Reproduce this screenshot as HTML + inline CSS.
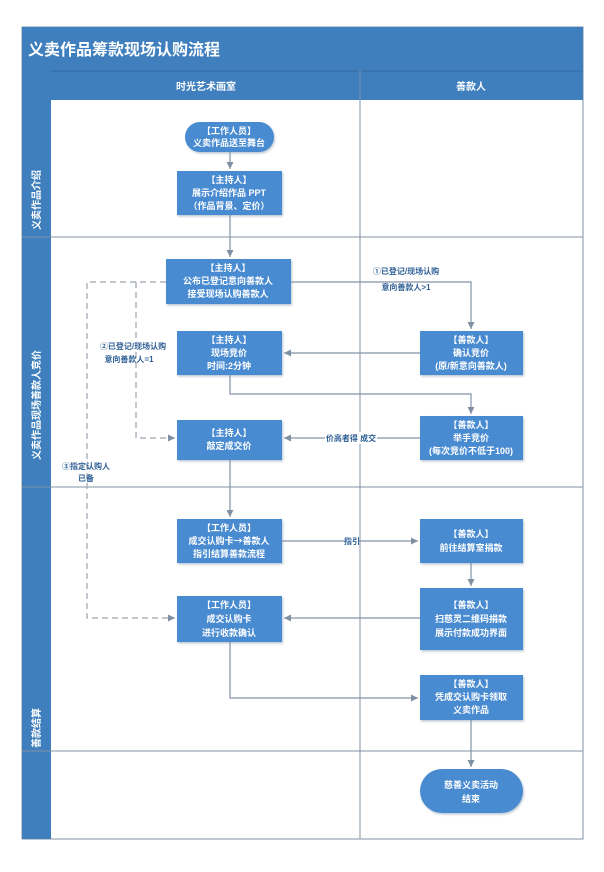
<!DOCTYPE html>
<html><head><meta charset="utf-8"><style>
body{margin:0;background:#fff;width:604px;height:867px;overflow:hidden;font-family:"Liberation Sans","Noto Sans CJK SC",sans-serif}
svg text{font-family:"Liberation Sans","Noto Sans CJK SC",sans-serif}
.b{fill:#4a8bd1}
.t{fill:#fff;font-size:9px;font-weight:bold;text-anchor:middle}
.l{fill:#2e5f95;font-size:8px;font-weight:bold;text-anchor:middle}
.c{stroke:#8293a6;stroke-width:1.2;fill:none}
.d{stroke:#9aa3ad;stroke-width:1.2;fill:none;stroke-dasharray:6 4}
</style></head><body>
<svg width="604" height="867" viewBox="0 0 604 867">
<defs><marker id="a" markerWidth="8" markerHeight="8" refX="7" refY="4" orient="auto" markerUnits="userSpaceOnUse"><path d="M0,0.5 L7,4 L0,7.5z" fill="#7f90a3"/></marker>
<filter id="s"><feDropShadow dx="1" dy="1.5" stdDeviation="1" flood-color="#7790a8" flood-opacity="0.5"/></filter></defs>
<rect x="22" y="27" width="561" height="812" fill="#fff" stroke="#8293a6"/>
<rect x="22" y="27" width="561" height="43" fill="#3f7fbd"/>
<text x="28" y="55" fill="#fff" font-size="16" font-weight="bold">义卖作品筹款现场认购流程</text>
<rect x="22" y="70" width="561" height="30" fill="#3f7fbd"/>
<rect x="22" y="70" width="29" height="769" fill="#3f7fbd"/>
<line x1="51" y1="71" x2="583" y2="71" stroke="#2f6aa4"/>
<line x1="360" y1="70" x2="360" y2="839" stroke="#8293a6"/>
<text x="206" y="90" fill="#fff" font-size="10" font-weight="bold" text-anchor="middle">时光艺术画室</text>
<text x="471" y="90" fill="#fff" font-size="10" font-weight="bold" text-anchor="middle">善款人</text>
<g stroke="#8293a6"><line x1="22" y1="237" x2="583" y2="237"/><line x1="22" y1="487" x2="583" y2="487"/><line x1="22" y1="751" x2="583" y2="751"/></g>
<g fill="#fff" font-size="10" font-weight="bold" text-anchor="middle">
<text transform="translate(40,200) rotate(-90)">义卖作品介绍</text>
<text transform="translate(40,405) rotate(-90)">义卖作品现场善款人竞价</text>
<text transform="translate(40,728) rotate(-90)">善款结算</text></g>
<path class="c" d="M230,152 V169" marker-end="url(#a)"/>
<path class="c" d="M230,215 V257" marker-end="url(#a)"/>
<path class="c" d="M291,282 H471 V329" marker-end="url(#a)"/>
<path class="c" d="M420,353 H284" marker-end="url(#a)"/>
<path class="c" d="M230,375 V394 H471 V414" marker-end="url(#a)"/>
<path class="c" d="M420,438 H284" marker-end="url(#a)"/>
<path class="c" d="M230,460 V517" marker-end="url(#a)"/>
<path class="c" d="M282,541 H418" marker-end="url(#a)"/>
<path class="c" d="M471,563 V586" marker-end="url(#a)"/>
<path class="c" d="M420,618 H284" marker-end="url(#a)"/>
<path class="c" d="M230,642 V698 H418" marker-end="url(#a)"/>
<path class="c" d="M471,720 V767" marker-end="url(#a)"/>
<path class="d" d="M166,282 H136 V438 H175" marker-end="url(#a)"/>
<path class="d" d="M136,282 H87 V618 H175" marker-end="url(#a)"/>
<rect x="345" y="535" width="14" height="12" fill="#fff"/>
<text x="352" y="544" class="l" fill="#333">指引</text>
<rect x="325" y="432" width="52" height="12" fill="#fff"/>
<text x="351" y="441" class="l">价高者得 成交</text>
<text x="406" y="274" class="l">①已登记/现场认购</text><text x="406" y="290" class="l">意向善款人&gt;1</text>
<text x="133" y="349" class="l">②已登记/现场认购</text><text x="129" y="362" class="l">意向善款人=1</text>
<text x="86" y="469" class="l">③指定认购人</text><text x="86" y="481" class="l">已备</text>
<g filter="url(#s)">
<rect class="b" x="185" y="122" width="89" height="30" rx="15"/>
<rect class="b" x="177" y="171" width="105" height="44"/>
<rect class="b" x="166" y="259" width="125" height="45"/>
<rect class="b" x="177" y="331" width="105" height="44"/>
<rect class="b" x="420" y="331" width="103" height="44"/>
<rect class="b" x="177" y="420" width="105" height="40"/>
<rect class="b" x="420" y="416" width="103" height="44"/>
<rect class="b" x="177" y="519" width="105" height="44"/>
<rect class="b" x="420" y="519" width="103" height="44"/>
<rect class="b" x="177" y="596" width="105" height="46"/>
<rect class="b" x="420" y="588" width="103" height="62"/>
<rect class="b" x="420" y="675" width="103" height="45"/>
<rect class="b" x="420" y="769" width="103" height="44" rx="22"/>
</g>
<text class="t" x="229" y="134">【工作人员】</text><text class="t" x="229" y="146">义卖作品送至舞台</text>
<text class="t" x="229" y="183">【主持人】</text><text class="t" x="229" y="196">展示介绍作品 PPT</text><text class="t" x="229" y="209">（作品背景、定价）</text>
<text class="t" x="228" y="271">【主持人】</text><text class="t" x="228" y="284">公布已登记意向善款人</text><text class="t" x="228" y="297">接受现场认购善款人</text>
<text class="t" x="229" y="343">【主持人】</text><text class="t" x="229" y="356">现场竞价</text><text class="t" x="229" y="369">时间:2分钟</text>
<text class="t" x="471" y="343">【善款人】</text><text class="t" x="471" y="356">确认竞价</text><text class="t" x="471" y="369">(原/新意向善款人)</text>
<text class="t" x="229" y="436">【主持人】</text><text class="t" x="229" y="449">敲定成交价</text>
<text class="t" x="471" y="428">【善款人】</text><text class="t" x="471" y="441">举手竞价</text><text class="t" x="471" y="454">(每次竞价不低于100)</text>
<text class="t" x="229" y="531">【工作人员】</text><text class="t" x="229" y="544" style="font-family:'Noto Sans CJK SC',sans-serif">成交认购卡→善款人</text><text class="t" x="229" y="557">指引结算善款流程</text>
<text class="t" x="471" y="537">【善款人】</text><text class="t" x="471" y="551">前往结算室捐款</text>
<text class="t" x="229" y="608">【工作人员】</text><text class="t" x="229" y="622">成交认购卡</text><text class="t" x="229" y="636">进行收款确认</text>
<text class="t" x="471" y="608">【善款人】</text><text class="t" x="471" y="622">扫慈灵二维码捐款</text><text class="t" x="471" y="636">展示付款成功界面</text>
<text class="t" x="471" y="687">【善款人】</text><text class="t" x="471" y="700">凭成交认购卡领取</text><text class="t" x="471" y="713">义卖作品</text>
<text class="t" x="471" y="788">慈善义卖活动</text><text class="t" x="471" y="802">结束</text>
</svg>
</body></html>
